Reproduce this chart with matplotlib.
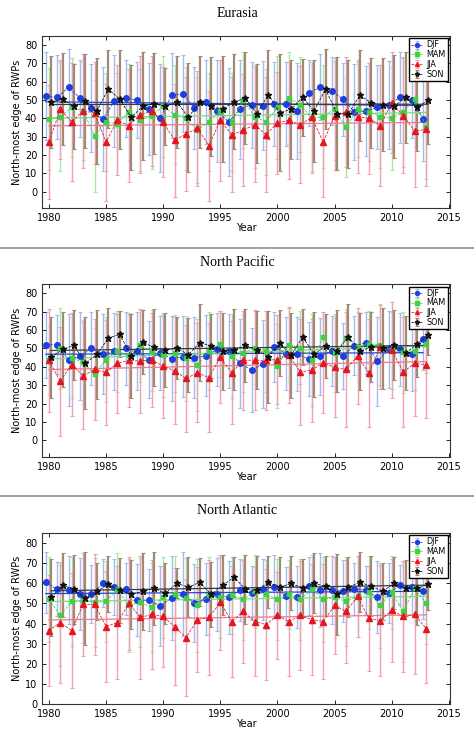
import numpy as np
import matplotlib
matplotlib.use("Agg")
import matplotlib.pyplot as plt
from matplotlib.lines import Line2D

years = list(range(1980, 2014))
seasons = ["DJF", "MAM", "JJA", "SON"]
regions = ["Eurasia", "North Pacific", "North Atlantic"]

# Eurasia
ea_djf = [52, 51.5, 57, 51, 45.5, 39.5, 49.5, 51, 50, 45, 40, 52.5, 53.5, 45.5, 49, 44, 38,
          45, 47.5, 47, 48, 48, 44, 54, 57, 55, 50.5, 43.5, 44, 46, 47.5, 51.5, 50, 39.5]
ea_djf_err = [24, 23, 21, 21, 24, 28.5, 25, 21, 21, 25, 29.5, 23, 21, 22.5, 23, 28, 29.5,
              27, 23.5, 24.5, 23, 23, 26, 18, 18, 18.5, 20, 26, 24.5, 23, 24, 25, 21, 23]
ea_mam = [39.5, 41, 46, 44, 30.5, 38, 37, 43.5, 39, 41.5, 46.5, 42, 40, 33.5, 38, 44, 38,
          50, 41, 38, 46, 51, 47.5, 40, 41, 45, 35, 45, 43.5, 41, 40, 43.5, 50.5, 35]
ea_mam_err = [28, 30, 27, 27, 30.5, 27, 28, 26, 28, 29, 27.5, 27, 28, 29, 27, 28, 27,
              26, 28, 29, 28, 25, 26, 29, 28, 28, 27, 26, 27, 28, 28, 30, 26, 28]
ea_jja = [27, 45, 38, 44, 43, 27, 39, 36, 42, 44, 38, 28, 31.5, 34.5, 25, 39, 31,
          33.5, 36.5, 31, 37.5, 39, 36.5, 40.5, 27, 41.5, 43.5, 41, 40, 36, 48.5, 41.5, 33, 34]
ea_jja_err = [31, 27, 32, 31, 28, 32, 30, 31, 32, 30, 30, 31, 31, 31.5, 30, 33, 31.5,
              30.5, 31.5, 31.5, 28, 32, 32, 30.5, 30, 30, 30, 31, 30.5, 33, 27.5, 31.5, 30.5, 31]
ea_son = [49, 50.5, 46.5, 49.5, 44, 56, 50.5, 40.5, 46.5, 48, 46.5, 49, 40.5, 49, 46.5, 45, 49,
          51, 42.5, 53, 43, 45, 51.5, 44, 56, 42.5, 42.5, 52.5, 48.5, 47.5, 46.5, 51.5, 46, 50]
ea_son_err = [25, 25, 23, 25.5, 29, 21.5, 27, 28.5, 29.5, 27.5, 21, 25, 30, 25, 27, 29, 26,
              25, 27, 24.5, 32, 27, 21, 28, 22, 31, 29.5, 25, 24.5, 25.5, 28, 25, 24, 24]

# North Pacific
np_djf = [52, 52, 43.7, 46, 50, 47, 48.5, 50, 48.6, 44, 47.5, 44.5, 45.5, 45, 46, 49.5, 48.6,
          41.9, 38.3, 41.5, 51, 47.2, 47, 44.2, 45.8, 48.6, 46, 51.5, 53, 43, 49.5, 49.5, 47, 55.2]
np_djf_err = [18, 16, 25, 24, 20, 22, 21, 20, 21, 21, 20, 23, 22, 22, 22, 20, 20,
              24, 23, 24, 19, 20, 20, 20, 21, 19, 18, 16, 17, 24, 21, 20, 20, 17]
np_mam = [43.5, 50, 45, 42.4, 36, 44, 48.5, 46.5, 51.7, 48.8, 46.4, 47.4, 44.6, 40.8, 48.6, 52.6, 45.9,
          47.5, 50.5, 48.5, 40.5, 52, 50.5, 44, 56, 47.5, 55.5, 51, 52.5, 52, 49, 48, 48.5, 52.5]
np_mam_err = [19, 22, 22, 23, 25, 23, 22, 23, 20, 22, 23, 21, 23, 25, 21, 18, 23,
              21, 20, 22, 23, 20, 20, 25, 14, 21, 16, 19, 18, 22, 21, 22, 21, 16]
np_jja = [43.5, 32.2, 41.3, 35.2, 38.6, 37, 42, 43.5, 43.2, 43.9, 40.3, 38, 33.7, 36.8, 34.2, 45.2, 36.8,
          43.5, 43.7, 43.5, 44, 46.3, 37.2, 38.3, 42.3, 39.7, 38.6, 45.9, 36.6, 50.8, 49.2, 37.2, 41.9, 41.2]
np_jja_err = [28, 29.5, 28, 29, 27.5, 28.5, 27, 25.5, 28.5, 25.5, 28, 29, 29, 27, 29.5, 25, 28,
              27, 27, 27, 24, 26, 29, 28, 27.5, 27, 31, 26, 29.5, 23, 26, 30, 28.5, 29]
np_son = [45.2, 49.5, 51.7, 42, 46.8, 55.6, 57.7, 46, 53.4, 50.6, 49.2, 50.3, 46.6, 53.2, 51.4, 48.5, 49.2,
          51.7, 49.2, 45.5, 52.8, 46.3, 56.3, 46.8, 51.4, 48.6, 56.3, 48.5, 50.8, 50.1, 52.1, 47.5, 52.3, 57.6]
np_son_err = [22, 20.5, 19, 25, 24, 16.5, 12.5, 23, 17.5, 21, 20, 17, 20, 21, 17.5, 21, 22,
              20, 21, 25, 18, 23, 15, 23, 17.5, 22.5, 18, 21, 19, 22, 19, 20, 18, 11]

# North Atlantic
na_djf = [60.4, 57, 56.6, 54.6, 54.6, 60, 58, 57, 51.6, 51.6, 48.8, 52.6, 54.6, 50.3, 52.1, 54.5, 53,
          56.6, 55.1, 57, 58.3, 53.6, 53.3, 58.6, 56.6, 56.8, 56.3, 57, 56.6, 53.1, 55.1, 59.2, 58.4, 56.4]
na_djf_err = [15, 13.5, 17, 18, 14.5, 12, 14, 13, 18, 15.5, 20, 21, 21, 19.5, 18, 18, 18,
              15.5, 13.5, 15, 15.7, 14.5, 15.5, 14.5, 18.5, 17, 15.5, 13, 12, 18, 15, 10, 14, 14]
na_mam = [52, 44, 51, 51.5, 50.5, 51, 57, 49, 50.5, 48, 53, 54.5, 52.5, 49, 54, 53, 54,
          52, 56, 54.5, 52, 54.5, 52, 57, 52, 53, 51, 53.5, 55.5, 49, 55.5, 46, 57.5, 50]
na_mam_err = [21, 25, 22, 21, 22, 20, 18, 23, 22, 22, 20, 19, 20, 23, 19, 20, 19,
              20, 18, 17, 20, 17, 20, 17, 21, 20, 22, 20, 18, 21, 18, 25, 16, 20]
na_jja = [36.5, 40.5, 36.5, 49.5, 49.5, 38.5, 40.5, 50, 43, 44.5, 43.5, 38.5, 33, 42, 43, 50.5, 41,
          46, 41, 39.5, 44, 41, 44, 42, 41, 49, 46, 53.5, 42.5, 41.5, 46.5, 43.5, 44.5, 37.5]
na_jja_err = [27.5, 30, 28.5, 25.5, 25, 27.5, 28, 23, 30.5, 27, 25, 29, 29, 26, 28.5, 23.5, 27.5,
              25.5, 27, 27.5, 21.5, 27, 27, 27.5, 28.5, 24, 25.5, 20, 26, 27.5, 25.5, 27.5, 29.5, 27]
na_son = [53, 59, 57, 52.5, 56, 59.5, 56.5, 54.5, 56, 57.5, 55, 60, 58, 60.5, 54.5, 59, 63,
          57, 56.5, 60.5, 58, 60, 57.5, 60, 58.5, 54.5, 58, 60.5, 58.5, 56, 60, 57.5, 57.5, 59.5]
na_son_err = [19, 16, 17, 23, 14, 14, 16, 17, 19, 18, 15, 7.5, 15, 12, 16, 15, 10,
              17, 17, 13, 15, 13.5, 14.5, 15, 15, 20, 15, 15, 15, 14, 13, 14, 18, 13]

region_data = [
    [(ea_djf, ea_djf_err), (ea_mam, ea_mam_err), (ea_jja, ea_jja_err), (ea_son, ea_son_err)],
    [(np_djf, np_djf_err), (np_mam, np_mam_err), (np_jja, np_jja_err), (np_son, np_son_err)],
    [(na_djf, na_djf_err), (na_mam, na_mam_err), (na_jja, na_jja_err), (na_son, na_son_err)],
]

# style per season
offsets = [-0.27, 0.0, 0.0, 0.2]
markers = ["o", "s", "^", "*"]
msizes = [4.0, 3.4, 4.0, 4.6]
colors = ["#1c3fe0", "#3fd23f", "#e8141e", "#111111"]
ecolors = ["#a3bcee", "#a6eaa0", "#f2a0b6", "#a08a76"]
elws = [1.0, 1.0, 1.0, 1.6]
trend_colors = ["#2848c8", "#7ae07a", "#f07a8a", "#3a3a3a"]

fig = plt.figure(figsize=(4.74, 7.36), dpi=100)

bottoms = [0.7174, 0.379, 0.0435]
heights = [0.2337, 0.235, 0.2323]
title_y = [0.981, 0.644, 0.307]
ylims = [(-9, 85), (-9, 85), (0, 85)]

yrs = np.array(years, dtype=float)
for i, region in enumerate(regions):
    ax = fig.add_axes([0.0886, bottoms[i], 0.861, heights[i]])
    for j, season in enumerate(seasons):
        vals, errs = region_data[i][j]
        x = yrs + offsets[j]
        cont = ax.errorbar(x, vals, yerr=errs, fmt=markers[j], ls="--", lw=0.55,
                           color=colors[j], ms=msizes[j], mec=colors[j],
                           ecolor=ecolors[j], elinewidth=elws[j], capsize=1.5,
                           capthick=0.8, label=season)
        cont.lines[0].set_zorder(5)
        for c in cont.lines[1]:
            c.set_zorder(1)
        for c in cont.lines[2]:
            c.set_zorder(1)
        # linear trend
        p = np.polyfit(x, vals, 1)
        ax.plot([x[0], x[-1]], np.polyval(p, [x[0], x[-1]]), color=trend_colors[j],
                lw=0.9, zorder=3)

    ax.set_xlim(1979.4, 2015.1)
    ax.set_ylim(*ylims[i])
    ax.set_xticks(range(1980, 2016, 5))
    ax.set_yticks(range(0, 81, 10))
    ax.tick_params(direction="in", top=True, right=True, labelsize=7, length=3, width=0.6)
    ax.set_xlabel("Year", fontsize=7, labelpad=0)
    ax.set_ylabel("North-most edge of RWPs", fontsize=7, labelpad=2)
    for s in ax.spines.values():
        s.set_linewidth(0.8)
        s.set_color("#333333")
    ax.legend(loc="upper right", fontsize=5.8, handlelength=1.5, borderpad=0.25,
              labelspacing=0.1, handletextpad=0.4, framealpha=1, edgecolor="black",
              fancybox=False, borderaxespad=0.3, markerscale=0.7)
    fig.text(0.5, title_y[i], region, ha="center", va="center",
             family="Liberation Serif", fontsize=10)

for ysep in [1 - 248 / 736, 1 - 496 / 736]:
    fig.add_artist(Line2D([0, 1], [ysep, ysep], transform=fig.transFigure,
                          color="#9a9a9a", lw=1.3))

fig.savefig("out.png", dpi=100)
